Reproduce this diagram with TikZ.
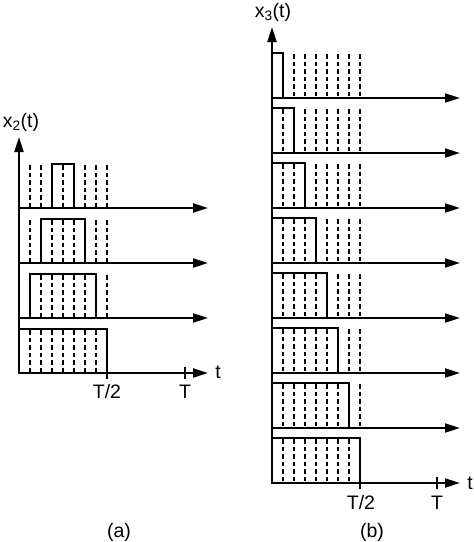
\documentclass[tikz,border=0pt]{standalone}
\usepackage{fontspec}
\setmainfont{Liberation Sans}
\usetikzlibrary{arrows.meta}
\tikzset{
  axisline/.style={line width=2pt,-{Triangle[length=15pt,width=9pt]}},
  pulseline/.style={line width=2pt,line join=miter},
  dashline/.style={line width=1.8pt,dash pattern=on 4.5pt off 3pt},
  tickline/.style={line width=1.8pt},
  lab/.style={inner sep=0pt,font=\fontsize{19.5}{23}\selectfont},
}
\begin{document}
\begin{tikzpicture}[x=1pt,y=-1pt]
\useasboundingbox (0,0) rectangle (474,542);
% ---------- panel (a) ----------
\foreach \b/\s/\e in {208/3/5, 263/2/6, 318/1/7, 373/0/8} {
  \foreach \k in {1,...,8} {
    \ifnum\k=\s\relax\else\ifnum\k=\e\relax\else
      \draw[dashline] ({19+\k*11},{\b-43}) -- ({19+\k*11},\b);
    \fi\fi
  }
  \draw[pulseline] ({19+\s*11},\b) -- ({19+\s*11},{\b-44}) -- ({19+\e*11},{\b-44}) -- ({19+\e*11},\b);
  \draw[axisline] (19,\b) -- (208,\b);
}
\draw[tickline] (107,373) -- (107,379);
\draw[tickline] (185,367) -- (185,379);
\draw[axisline] (19,374) -- (19,137);
\node[lab] (xa) at (21,122) {x\textsubscript{2}(t)};
\node[lab] (ta) at (218,372) {t};
\node[lab] (tha) at (107,392) {T/2};
\node[lab] (Ta) at (185,392) {T};
\node[lab] (capa) at (119,532) {(a)};
% ---------- panel (b) ----------
\foreach \i in {1,...,8} {
  \pgfmathtruncatemacro{\b}{98+55*(\i-1)}
  \foreach \k in {1,...,8} {
    \ifnum\k=\i\relax\else
      \draw[dashline] ({272+\k*11},{\b-44}) -- ({272+\k*11},\b);
    \fi
  }
  \draw[pulseline] (272,\b) -- (272,{\b-45}) -- ({272+\i*11},{\b-45}) -- ({272+\i*11},\b);
  \draw[axisline] (272,\b) -- (460,\b);
}
\draw[tickline] (360,483) -- (360,489);
\draw[tickline] (437,477) -- (437,489);
\draw[axisline] (272,484) -- (272,27);
\node[lab] (xb) at (273,12) {x\textsubscript{3}(t)};
\node[lab] (tb) at (470,483) {t};
\node[lab] (thb) at (361,503) {T/2};
\node[lab] (Tb) at (437,503) {T};
\node[lab] (capb) at (372,532) {(b)};
\end{tikzpicture}
\end{document}
